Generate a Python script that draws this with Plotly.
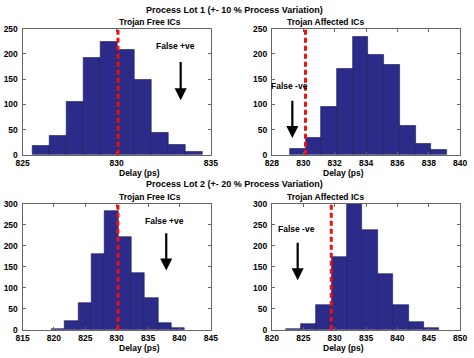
import plotly.graph_objects as go

# ---------------- data ----------------
# Lot 1, Trojan free
lot1_free_start = 825.55
lot1_free_width = 0.90
lot1_free_counts = [17, 38, 105, 192, 225, 209, 148, 44, 19, 5]
# Lot 1, Trojan affected
lot1_aff_start = 829.15
lot1_aff_width = 1.0
lot1_aff_counts = [12, 33, 96, 170, 234, 199, 179, 57, 22, 9]
# Lot 2, Trojan free
lot2_free_start = 819.6
lot2_free_width = 2.126
lot2_free_counts = [2, 21, 64, 180, 284, 221, 136, 75, 16, 4]
# Lot 2, Trojan affected
lot2_aff_start = 822.16
lot2_aff_width = 2.45
lot2_aff_counts = [2, 14, 58, 174, 302, 239, 133, 60, 19, 3]

thresholds = [830.07, 830.14, 830.2, 829.45]

x_ranges = [[825, 835], [828, 840], [815, 845], [820, 850]]
x_ticks = [[825, 830, 835], [828, 830, 832, 834, 836, 838, 840],
           [815, 820, 825, 830, 835, 840, 845], [820, 825, 830, 835, 840, 845, 850]]
y_ranges = [[0, 250], [0, 250], [0, 300], [0, 300]]
y_ticks = [[0, 50, 100, 150, 200, 250], [0, 50, 100, 150, 200, 250],
           [0, 50, 100, 150, 200, 250, 300], [0, 50, 100, 150, 200, 250, 300]]

panel_titles = ["Trojan Free ICs", "Trojan Affected ICs", "Trojan Free ICs", "Trojan Affected ICs"]
super_titles = ["Process Lot 1 (+- 10 % Process Variation)", "Process Lot 2 (+- 20 % Process Variation)"]
x_label = "Delay (ps)"

arrow_labels = ["False +ve", "False -ve", "False +ve", "False -ve"]
arrow_x = [833.4, 829.3, 837.9, 824.1]
arrow_y_top = [187, 110, 234, 211]
arrow_y_tip = [108, 33, 141, 118]
label_x = [833.15, 829.1, 837.7, 823.9]
label_y = [216, 137, 260, 240]

# ---------------- layout geometry ----------------
W, H = 474, 358
x_domains = [[16 / W, 210 / W], [273 / W, 467 / W], [16 / W, 210 / W], [273 / W, 467 / W]]
y_domains = [[1 - 154 / H, 1 - 24.5 / H], [1 - 154 / H, 1 - 24.5 / H],
             [1 - 334 / H, 1 - 204.7 / H], [1 - 334 / H, 1 - 204.7 / H]]

BAR = "#2c2b8a"
FONT = "Liberation Sans, Arial, sans-serif"

fig = go.Figure()
panels = [
    (lot1_free_start, lot1_free_width, lot1_free_counts),
    (lot1_aff_start, lot1_aff_width, lot1_aff_counts),
    (lot2_free_start, lot2_free_width, lot2_free_counts),
    (lot2_aff_start, lot2_aff_width, lot2_aff_counts),
]

layout = dict(
    width=W, height=H, margin=dict(l=0, r=0, t=0, b=0),
    paper_bgcolor="white", plot_bgcolor="white", showlegend=False,
    bargap=0, font=dict(family=FONT, size=9, color="black"),
)
annotations = []
shapes = []
for i, (start, width, counts) in enumerate(panels):
    n = i + 1
    xa = "x" if n == 1 else f"x{n}"
    ya = "y" if n == 1 else f"y{n}"
    centers = [start + width * (k + 0.5) for k in range(len(counts))]
    fig.add_trace(go.Bar(x=centers, y=counts, width=width, xaxis=xa, yaxis=ya,
                         marker=dict(color=BAR, line=dict(color="#1b1a55", width=0.6)),
                         hoverinfo="skip"))
    axis_common = dict(showgrid=False, zeroline=False, showline=True, linecolor="#666",
                       linewidth=1, mirror="ticks", ticks="inside", ticklen=3,
                       tickcolor="#666",
                       tickfont=dict(family=FONT, size=8.5, color="black", weight="bold"))
    layout["xaxis" if n == 1 else f"xaxis{n}"] = dict(
        domain=x_domains[i], range=x_ranges[i], tickvals=x_ticks[i],
        anchor=ya, **axis_common)
    layout["yaxis" if n == 1 else f"yaxis{n}"] = dict(
        domain=y_domains[i], range=y_ranges[i], tickvals=y_ticks[i],
        anchor=xa, ticklabelstandoff=2, **axis_common)
    shapes.append(dict(type="line", xref=xa, yref=f"{ya} domain",
                       x0=thresholds[i], x1=thresholds[i], y0=0, y1=1,
                       line=dict(color="#ee1111", width=3, dash="5px,3px")))
    # arrow
    annotations.append(dict(x=arrow_x[i], y=arrow_y_tip[i], ax=arrow_x[i], ay=arrow_y_top[i],
                            xref=xa, yref=ya, axref=xa, ayref=ya, text="",
                            showarrow=True, arrowhead=2, arrowsize=1.1, arrowwidth=2.2,
                            arrowcolor="black"))
    annotations.append(dict(x=label_x[i], y=label_y[i], xref=xa, yref=ya, text=arrow_labels[i],
                            showarrow=False, font=dict(family=FONT, size=8.5, weight="bold")))
    # panel title
    top_px = 24.5 if i < 2 else 204.7
    cx = (x_domains[i][0] + x_domains[i][1]) / 2
    annotations.append(dict(x=cx, y=1 - (top_px - 7.5) / H, xref="paper", yref="paper",
                            text=panel_titles[i], showarrow=False, yanchor="middle",
                            font=dict(family=FONT, size=8.5, weight="bold")))
    bot_px = 154 if i < 2 else 334
    annotations.append(dict(x=cx, y=1 - (bot_px + 18.5) / H, xref="paper", yref="paper",
                            text=x_label, showarrow=False, yanchor="middle",
                            font=dict(family=FONT, size=8.5, weight="bold")))

for j, t in enumerate(super_titles):
    ypx = 5 if j == 0 else 184
    annotations.append(dict(x=234 / W, y=1 - ypx / H, xref="paper", yref="paper",
                            text=t, showarrow=False, yanchor="middle",
                            font=dict(family=FONT, size=9, weight="bold")))

layout["annotations"] = annotations
layout["shapes"] = shapes
fig.update_layout(**layout)
fig.write_html("out.html", config={"displayModeBar": False},
               post_script="document.body.style.margin='0';document.body.style.padding='0';"
                           "document.body.style.overflow='hidden';")
